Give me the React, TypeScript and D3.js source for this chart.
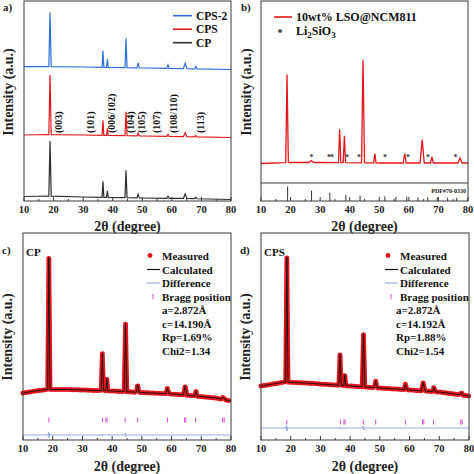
import React from 'react';
import * as d3 from 'd3';

type Pt = [number, number];

const FONT = "'Times New Roman', 'Liberation Serif', serif";
const AX = '#3a3a3a';
const RED = '#e3161b';
const BLUE = '#2a6fd8';
const BLACK = '#2e2e2e';
const DIFF = '#86a2e0';
const BRAGG = '#d64bd6';

const X_TICKS = [10, 20, 30, 40, 50, 60, 70, 80];
const X_MINOR = [15, 25, 35, 45, 55, 65, 75];

// ---- panel a: stacked patterns. baseline nodes [2θ, I], peaks [2θ, height, half width]
const CP_BASE: Pt[] = [[10, 4.5], [18, 5], [30, 4], [50, 3], [65, 2.5], [80, 1.5]];
const CP_PEAKS = [[18.8, 55, 0.4], [36.7, 16, 0.3], [38.2, 6.5, 0.3], [44.5, 27.5, 0.35], [48.6, 3.5, 0.4], [58.7, 2, 0.4], [64.5, 4.5, 0.6], [68.1, 1.5, 0.4]];
const CPS_BASE: Pt[] = [[10, 66], [18, 66.5], [30, 66], [50, 65], [80, 63.5]];
const CPS_PEAKS = [[18.8, 59.5, 0.4], [36.7, 15, 0.3], [38.2, 7, 0.3], [44.5, 24, 0.35], [48.6, 3, 0.4], [58.7, 2, 0.4], [64.5, 4, 0.6], [68.1, 1.5, 0.4]];
const CPS2_BASE: Pt[] = [[10, 134.3], [18, 134.5], [30, 134], [50, 133], [80, 131.5]];
const CPS2_PEAKS = [[18.8, 54, 0.4], [36.7, 16.5, 0.3], [38.2, 8, 0.3], [44.5, 29.5, 0.35], [48.6, 5, 0.4], [58.7, 3.5, 0.4], [64.5, 5.5, 0.6], [68.1, 2.5, 0.4]];
const HKL = ['(003)', '(101)', '(006/102)', '(104)', '(105)', '(107)', '(108/110)', '(113)'];
const HKL_POS = [21.7, 32.5, 39.7, 46.1, 49.8, 54.9, 60.6, 69.8];

// ---- panel b
const LSO_BASE: Pt[] = [[10, 19.5], [20, 20.5], [30, 20.5], [50, 20], [80, 20]];
const LSO_PEAKS = [[18.8, 88, 0.45], [27, 2, 0.8], [36.6, 33.5, 0.4], [38.2, 27, 0.4], [44.5, 103, 0.5], [48.5, 9.5, 0.4], [58.6, 9.5, 0.5], [64.5, 23.5, 0.7], [67.8, 6, 0.5], [77.3, 5, 0.7]];
const STARS = [27.1, 33.0, 34.0, 39.1, 43.1, 51.9, 59.7, 66.5, 75.8];
const PDF_POS = [19.0, 27.1, 33.3, 38.7, 43.5, 51.9, 55.6, 59.3, 63.1, 66.4, 69.6, 73.1, 76.2];
const PDF_INT = [80, 57, 46, 35, 30, 26, 23, 23, 20, 20, 20, 18, 18];

// ---- panels c and d (Rietveld)
const BRAGG_POS = [18.7, 36.7, 37.9, 38.3, 44.4, 48.6, 58.6, 64.4, 64.8, 68.1, 77.2, 77.7];
const CP_R_BASE: Pt[] = [[10, 47], [14, 49], [18, 50.5], [25, 50.5], [30, 50], [40, 49], [50, 47.5], [60, 46], [70, 43.5], [75, 42], [80, 39]];
const CP_R_PEAKS = [[18.7, 132, 0.4], [36.7, 37, 0.4], [38.2, 12, 0.35], [44.5, 68, 0.45], [48.6, 7.5, 0.45], [58.6, 5.5, 0.5], [64.6, 9, 0.6], [68.2, 5, 0.45], [77.4, 2.5, 0.6]];
const CP_DIFF: Pt[] = [[10, 0], [18.4, 0], [18.6, 2.5], [18.75, -3], [18.9, 1.5], [19.2, 0], [36.5, 0], [36.7, 1], [36.9, -0.8], [37.1, 0], [44.2, 0], [44.4, 1.8], [44.6, -1.5], [44.8, 0], [80, 0]];
const CPS_R_BASE: Pt[] = [[10, 54], [14, 56], [18, 58], [25, 57], [30, 56], [40, 54], [50, 52], [60, 50], [70, 48], [80, 44]];
const CPS_R_PEAKS = [[18.7, 125, 0.4], [36.6, 31, 0.4], [38.2, 11, 0.35], [44.5, 53, 0.45], [48.6, 6.5, 0.45], [58.6, 5.5, 0.5], [64.6, 8.5, 0.6], [68.2, 4.5, 0.45], [77.4, 2.5, 0.6]];
const CPS_DIFF: Pt[] = [[10, 0], [18.4, 0], [18.6, 3], [18.75, -3], [18.9, 1], [19.2, 0], [36.5, 0], [36.7, 1], [36.9, -1], [37.1, 0], [44.2, 0], [44.4, 2], [44.6, -2], [44.8, 0], [80, 0]];
const CP_PARAMS = ['a=2.872Å', 'c=14.190Å', 'Rp=1.69%', 'Chi2=1.34'];
const CPS_PARAMS = ['a=2.872Å', 'c=14.192Å', 'Rp=1.88%', 'Chi2=1.54'];

function buildProfile(base: Pt[], peaks: number[][]): Pt[] {
  const bl = d3.scaleLinear().domain(base.map(d => d[0])).range(base.map(d => d[1]));
  const inPeak = (x: number) => peaks.some(([p, , w]) => Math.abs(x - p) <= w);
  const pts: Pt[] = base.filter(d => !inPeak(d[0])).map(d => [d[0], d[1]] as Pt);
  peaks.forEach(([p, h, w]) => {
    pts.push([p - w, bl(p - w)], [p, bl(p) + h], [p + w, bl(p + w)]);
  });
  return pts.sort((a, b) => a[0] - b[0]);
}

function BottomAxis({ x, y }: { x: d3.ScaleLinear<number, number>; y: number }) {
  return (
    <g>
      {X_TICKS.map(t => (
        <g key={t}>
          <line x1={x(t)} x2={x(t)} y1={y} y2={y - 4} stroke={AX} />
          <text x={x(t)} y={y + 12} textAnchor="middle" fontSize={10.5} fontWeight="bold" fill="#222">{t}</text>
        </g>
      ))}
      {X_MINOR.map(t => <line key={t} x1={x(t)} x2={x(t)} y1={y} y2={y - 2} stroke={AX} />)}
    </g>
  );
}

function Titles({ cx, cy, bottom, left, tag, tagY }: { cx: number; cy: number; bottom: number; left: number; tag: string; tagY: number }) {
  return (
    <g fontFamily={FONT} fontWeight="bold" fill="#222">
      <text x={cx} y={bottom} textAnchor="middle" fontSize={14}>2θ (degree)</text>
      <text transform={`translate(${left},${cy}) rotate(-90)`} textAnchor="middle" fontSize={14}>Intensity (a.u.)</text>
      <text x={left - 10} y={tagY} fontSize={11}>{tag}</text>
    </g>
  );
}

function PanelA() {
  const x = d3.scaleLinear().domain([10, 80]).range([24, 231]);
  const y = d3.scaleLinear().domain([0, 200]).range([201, 1]);
  const line = d3.line<Pt>().x(d => x(d[0])).y(d => y(d[1]));
  const series = [
    { name: 'CPS-2', color: BLUE, d: buildProfile(CPS2_BASE, CPS2_PEAKS) },
    { name: 'CPS', color: RED, d: buildProfile(CPS_BASE, CPS_PEAKS) },
    { name: 'CP', color: BLACK, d: buildProfile(CP_BASE, CP_PEAKS) },
  ];
  return (
    <g fontFamily={FONT}>
      {series.map(s => (
        <path key={s.name} d={line(s.d) || ''} fill="none" stroke={s.color} strokeWidth={1.2} />
      ))}
      {HKL.map((h, i) => (
        <text key={h} transform={`translate(${x(HKL_POS[i]) + 3.5},133) rotate(-90)`} fontSize={10} fontWeight="bold" fill="#111">{h}</text>
      ))}
      {series.map((s, i) => (
        <g key={s.name} transform={`translate(0,${15.7 + i * 13.5})`}>
          <line x1={173} x2={192} stroke={s.color} strokeWidth={1.6} />
          <text x={196} y={4} fontSize={11.5} fontWeight="bold" fill="#111">{s.name}</text>
        </g>
      ))}
      <rect x={24} y={1} width={207} height={200} fill="none" stroke={AX} />
      <BottomAxis x={x} y={201} />
      <Titles cx={127.5} cy={92} bottom={231} left={13} tag="a)" tagY={11} />
    </g>
  );
}

function PanelB() {
  const x = d3.scaleLinear().domain([10, 80]).range([261, 468]);
  const y = d3.scaleLinear().domain([0, 182]).range([183, 1]);
  const yr = d3.scaleLinear().domain([0, 100]).range([201, 183]);
  const line = d3.line<Pt>().x(d => x(d[0])).y(d => y(d[1]));
  const prof = buildProfile(LSO_BASE, LSO_PEAKS);
  const bl = d3.scaleLinear().domain(LSO_BASE.map(d => d[0])).range(LSO_BASE.map(d => d[1]));
  return (
    <g fontFamily={FONT}>
      <path d={line(prof) || ''} fill="none" stroke={RED} strokeWidth={1.3} />
      {STARS.map(s => (
        <text key={s} x={x(s)} y={y(bl(s) + 3)} textAnchor="middle" fontSize={8} fontWeight="bold" fill="#333">*</text>
      ))}
      {PDF_POS.map((p, i) => (
        <line key={p} x1={x(p)} x2={x(p)} y1={yr(0)} y2={yr(PDF_INT[i])} stroke="#333" strokeWidth={1} />
      ))}
      <text x={466} y={193} textAnchor="end" fontSize={6} fontWeight="bold" fill="#222">PDF#70-0330</text>
      <line x1={274} x2={292} y1={17} y2={17} stroke={RED} strokeWidth={1.6} />
      <text x={296} y={21} fontSize={12} fontWeight="bold" fill="#111">10wt% LSO@NCM811</text>
      <text x={280} y={36} textAnchor="middle" fontSize={10} fontWeight="bold" fill="#111">*</text>
      <text x={296} y={35} fontSize={12} fontWeight="bold" fill="#111">
        Li<tspan dy={3} fontSize={9}>2</tspan><tspan dy={-3}>SiO</tspan><tspan dy={3} fontSize={9}>3</tspan>
      </text>
      <rect x={261} y={1} width={207} height={200} fill="none" stroke={AX} />
      <line x1={261} x2={468} y1={183} y2={183} stroke={AX} />
      <BottomAxis x={x} y={201} />
      <Titles cx={364.5} cy={92} bottom={231} left={251} tag="b)" tagY={11} />
    </g>
  );
}

function PanelR({ x0, base, peaks, diff, diffOff, braggOff, params, name, legendX, paramX, tag }: {
  x0: number; base: Pt[]; peaks: number[][]; diff: Pt[]; diffOff: number; braggOff: number;
  params: string[]; name: string; legendX: number; paramX: number; tag: string;
}) {
  const x = d3.scaleLinear().domain([10, 80]).range([x0, x0 + 208]);
  const y = d3.scaleLinear().domain([0, 207]).range([440, 233]);
  const line = d3.line<Pt>().x(d => x(d[0])).y(d => y(d[1]));
  const prof = line(buildProfile(base, peaks)) || '';
  const diffPath = line(diff.map(d => [d[0], d[1] + diffOff] as Pt)) || '';
  const lx = legendX;
  return (
    <g fontFamily={FONT}>
      <path d={prof} fill="none" stroke={RED} strokeWidth={5} strokeDasharray="0 2.6" strokeLinecap="round" />
      <path d={prof} fill="none" stroke="#111" strokeWidth={0.9} />
      <path d={diffPath} fill="none" stroke={DIFF} strokeWidth={0.9} />
      {BRAGG_POS.map(b => (
        <line key={b} x1={x(b)} x2={x(b)} y1={y(braggOff) - 2.5} y2={y(braggOff) + 2.5} stroke={BRAGG} strokeWidth={1} />
      ))}
      <text x={x0 + 3} y={256} fontSize={11} fontWeight="bold" fill="#111">{name}</text>
      <g fontSize={11} fontWeight="bold" fill="#111">
        <circle cx={lx + 3} cy={255.5} r={2.4} fill={RED} />
        <text x={lx + 15} y={259.5}>Measured</text>
        <line x1={lx} x2={lx + 13} y1={269.5} y2={269.5} stroke="#111" strokeWidth={1.2} />
        <text x={lx + 15} y={273.5}>Calculated</text>
        <line x1={lx} x2={lx + 13} y1={283} y2={283} stroke={DIFF} strokeWidth={1} />
        <text x={lx + 15} y={287}>Difference</text>
        <line x1={lx + 6} x2={lx + 6} y1={294} y2={299} stroke={BRAGG} strokeWidth={1} />
        <text x={lx + 15} y={300.5}>Bragg position</text>
        {params.map((p, i) => (
          <text key={p} x={paramX} y={314 + i * 13.6}>{p}</text>
        ))}
      </g>
      <rect x={x0} y={233} width={208} height={207} fill="none" stroke={AX} />
      <BottomAxis x={x} y={440} />
      <Titles cx={x0 + 104} cy={337} bottom={471} left={x0 - 11} tag={tag} tagY={254} />
    </g>
  );
}

export default function App() {
  return (
    <svg width={474} height={474} viewBox="0 0 474 474" style={{ position: 'absolute', left: 0, top: 0, background: '#fff' }}>
      <rect width={474} height={474} fill="#fff" />
      <PanelA />
      <PanelB />
      <PanelR x0={23} base={CP_R_BASE} peaks={CP_R_PEAKS} diff={CP_DIFF} diffOff={5} braggOff={20}
        params={CP_PARAMS} name="CP" legendX={147} paramX={162} tag="c)" />
      <PanelR x0={261} base={CPS_R_BASE} peaks={CPS_R_PEAKS} diff={CPS_DIFF} diffOff={12} braggOff={18}
        params={CPS_PARAMS} name="CPS" legendX={385} paramX={396} tag="d)" />
    </svg>
  );
}
